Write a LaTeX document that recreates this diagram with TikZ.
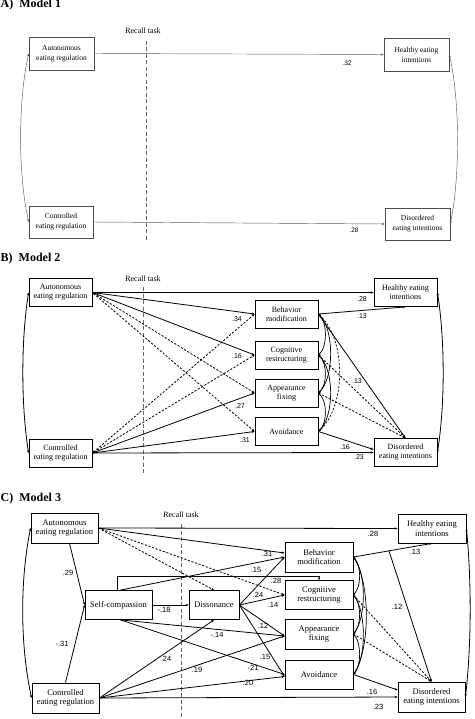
\documentclass[tikz,border=0pt]{standalone}
\usepackage{fontspec}
\setmainfont{Liberation Serif}
\newfontfamily\lsans{Liberation Sans}
\usetikzlibrary{arrows.meta}
\begin{document}
\begin{tikzpicture}[x=1pt,y=-1pt,
  tip/.tip={Stealth[length=3pt,width=2.4pt]},
  smalltip/.tip={Stealth[length=2.4pt,width=2pt]},
  boxA/.style={draw=black!70, line width=0.5pt, inner sep=0pt, align=center,
    font=\fontsize{7.5}{10}\selectfont},
  boxB/.style={draw, line width=0.8pt, inner sep=0pt, align=center,
    font=\fontsize{8}{9}\selectfont, minimum width=63pt, minimum height=28pt},
  boxC/.style={draw, line width=0.8pt, inner sep=0pt, align=center,
    font=\fontsize{8.5}{9.5}\selectfont},
  ttl/.style={anchor=west, inner sep=0pt, font=\fontsize{12}{12}\selectfont\bfseries},
  recall/.style={inner sep=0pt, font=\fontsize{8}{8}\selectfont},
  labA/.style={inner sep=0pt, font=\lsans\fontsize{6.5}{6.5}\selectfont},
  labB/.style={inner sep=0pt, font=\lsans\fontsize{7}{7}\selectfont},
  labC/.style={inner sep=0pt, font=\lsans\fontsize{7.5}{7.5}\selectfont},
  eA/.style={draw=black!65, line width=0.45pt, -tip},
  eB/.style={draw, line width=0.8pt, -tip},
  dsh/.style={dash pattern=on 2.2pt off 1.6pt},
  covA/.style={draw=black!65, line width=0.45pt, tip-tip},
  cov/.style={draw, line width=0.7pt, smalltip-smalltip},
  rline/.style={draw=black!60, line width=0.7pt, dash pattern=on 4pt off 2.5pt},
]
\useasboundingbox (0,0) rectangle (474,719);

% ================= Model 1 =================
\node[ttl] (tA) at (0.5,5) {A)\ \ Model 1};
\node[boxA, minimum width=65pt, minimum height=33pt] (A1) at (61.5,53.5) {Autonomous\\eating regulation};
\node[boxA, minimum width=65pt, minimum height=33pt] (H1) at (416.5,54.5) {Healthy eating\\intentions};
\node[boxA, minimum width=64pt, minimum height=32pt] (C1) at (61,222) {Controlled\\eating regulation};
\node[boxA, minimum width=65pt, minimum height=32pt] (D1) at (417.5,224) {Disordered\\eating intentions};
\node[recall] (rA) at (143,31) {Recall task};
\coordinate (rA1) at (146,41);
\coordinate (rA2) at (146,241);
\draw[rline] (rA1) -- (rA2);
\draw[eA] (A1.east) -- (H1.west);
\draw[eA] (C1.east) -- (D1.west);
\node[labA] (l32) at (347,63) {.32};
\node[labA] (l28a) at (354,230) {.28};
\draw[covA] (A1.west) .. controls (18,100) and (18,175) .. (C1.west);
\draw[covA] (H1.east) .. controls (460,100) and (460,178) .. (D1.east);

% ================= Model 2 =================
\node[ttl] (tB) at (0.5,259) {B)\ \ Model 2};
\node[boxB] (A2) at (60.5,292.5) {Autonomous\\eating regulation};
\node[boxB] (C2) at (60.5,453) {Controlled\\eating regulation};
\node[boxB] (H2) at (405.5,292.5) {Healthy eating\\intentions};
\node[boxB] (D2) at (405.5,452.5) {Disordered\\eating intentions};
\node[boxB] (B2) at (286.5,314) {Behavior\\modification};
\node[boxB] (R2) at (286.5,355) {Cognitive\\restructuring};
\node[boxB] (F2) at (286.5,393) {Appearance\\fixing};
\node[boxB] (V2) at (286.5,431.5) {Avoidance};
\node[recall] (rB) at (143,279) {Recall task};
\coordinate (rB1) at (143,287);
\coordinate (rB2) at (143,473);
\draw[rline] (rB1) -- (rB2);

\draw[eB] (A2.east) -- (H2.west);
\draw[eB, smalltip-tip] (A2.east) -- (B2.west);
\draw[eB, smalltip-tip] (A2.east) -- (R2.west);
\draw[eB, dsh, smalltip-tip] (A2.east) -- (F2.west);
\draw[eB, dsh, smalltip-tip] (A2.east) -- (V2.west);
\draw[eB, dsh, smalltip-tip] (C2.east) -- (B2.west);
\draw[eB, dsh, smalltip-tip] (C2.east) -- (R2.west);
\draw[eB, smalltip-tip] (C2.east) -- (F2.west);
\draw[eB, smalltip-tip] (C2.east) -- (V2.west);
\draw[eB] (C2.east) -- (D2.west);
\draw[eB] (B2.east) -- (H2.south);
\draw[eB] (B2.east) -- (D2.north);
\draw[eB, dsh] (R2.east) -- (D2.north);
\draw[eB, dsh] (F2.east) -- (D2.north);
\draw[eB] (V2.east) -- ([yshift=3pt]D2.west);

\draw[cov] (B2.east) .. controls +(9,8) and +(9,-8) .. (R2.east);
\draw[cov] (R2.east) .. controls +(9,8) and +(9,-8) .. (F2.east);
\draw[cov] (F2.east) .. controls +(9,8) and +(9,-8) .. (V2.east);
\draw[cov] (B2.east) .. controls +(16,15) and +(16,-15) .. (F2.east);
\draw[cov] (R2.east) .. controls +(16,15) and +(16,-15) .. (V2.east);
\draw[cov, dsh] (B2.east) .. controls +(28,25) and +(28,-25) .. (V2.east);

\draw[covA, draw=black, line width=0.8pt] (A2.west) .. controls (21,340) and (21,405) .. (C2.west);
\draw[covA, draw=black, line width=0.8pt] (H2.east) .. controls (445,340) and (445,405) .. (D2.east);

\node[labB] (l28b) at (362,299) {.28};
\node[labB] (l34b) at (237,319) {.34};
\node[labB] (l16b) at (237,356) {.16};
\node[labB] (l27b) at (240,406) {.27};
\node[labB] (l31b) at (245,440) {.31};
\node[labB] (l13b) at (362,316) {.13};
\node[labB] (l13c) at (357,381) {.13};
\node[labB] (l16c) at (345,447) {.16};
\node[labB] (l23b) at (359,457) {.23};

% ================= Model 3 =================
\node[ttl] (tC) at (0.5,499) {C)\ \ Model 3};
\node[boxC, minimum width=67pt, minimum height=30pt] (A3) at (64.5,528) {Autonomous\\eating regulation};
\node[boxC, minimum width=67pt, minimum height=30pt] (C3) at (65.5,698) {Controlled\\eating regulation};
\node[boxC, minimum width=68pt, minimum height=29pt] (H3) at (432,528.5) {Healthy eating\\intentions};
\node[boxC, minimum width=67pt, minimum height=30pt] (D3) at (431.5,697) {Disordered\\eating intentions};
\node[boxC, minimum width=67pt, minimum height=29pt] (S3) at (118.5,605) {Self-compassion};
\node[boxC, minimum width=50pt, minimum height=29pt] (N3) at (214,605) {Dissonance};
\node[boxC, minimum width=68pt, minimum height=30pt] (B3) at (319,557) {Behavior\\modification};
\node[boxC, minimum width=68pt, minimum height=29pt] (R3) at (319,595) {Cognitive\\restructuring};
\node[boxC, minimum width=68pt, minimum height=30pt] (F3) at (319,634) {Appearance\\fixing};
\node[boxC, minimum width=68pt, minimum height=29pt] (V3) at (319,674.5) {Avoidance};
\node[recall] (rC) at (181,515) {Recall task};
\coordinate (rC1) at (181,524);
\coordinate (rC2) at (181,719);
\draw[rline] (rC1) -- (rC2);

\draw[eB] (A3.east) -- (H3.west);
\draw[eB] (A3.east) -- ([yshift=4pt]B3.west);
\draw[eB, dsh] (A3.east) -- (N3.north);
\draw[eB, dsh] (A3.east) -- (R3.west);
\draw[eB] ([xshift=5pt]A3.south) -- (S3.west);
\draw[eB] (C3.north) -- (S3.west);
\draw[eB] (S3.east) -- (N3.west);
\draw[eB] ([xshift=2pt]S3.north) -- (B3.west);
\coordinate (el) at (319,576);
\draw[eB, -smalltip] ([xshift=-1.5pt]S3.north) |- (el) -- (R3.north);
\draw[eB] ([xshift=2pt]S3.south) -- ([yshift=-2pt]F3.west);
\draw[eB] ([xshift=2pt]S3.south) -- (V3.west);
\draw[eB] (N3.east) -- (B3.west);
\draw[eB] (N3.east) -- (R3.west);
\draw[eB] (N3.east) -- ([yshift=-2pt]F3.west);
\draw[eB] (N3.east) -- ([yshift=-2pt]V3.west);
\draw[eB] (C3.east) -- (N3.south);
\draw[eB] (C3.east) -- ([yshift=-2pt]F3.west);
\draw[eB] (C3.east) -- ([yshift=-2pt]V3.west);
\draw[eB] (C3.east) -- (D3.west);
\draw[eB] (V3.east) -- ([yshift=7pt]D3.west);
\draw[eB] (B3.east) -- (H3.south);
\coordinate (q12) at (389,551);
\draw[eB] (q12) -- (D3.north);
\draw[eB, dsh] (R3.east) -- (D3.north);
\draw[eB, dsh] (F3.east) -- (D3.north);

\draw[cov] (B3.east) .. controls +(8,9) and +(8,-9) .. (R3.east);
\draw[cov] (R3.east) .. controls +(8,9) and +(8,-9) .. (F3.east);
\draw[cov] (F3.east) .. controls +(8,9) and +(8,-9) .. (V3.east);
\draw[cov] (B3.east) .. controls +(13,17) and +(13,-17) .. (F3.east);
\draw[cov] (R3.east) .. controls +(13,17) and +(13,-17) .. (V3.east);
\draw[cov] (B3.east) .. controls +(17,26) and +(17,-26) .. (V3.east);

\draw[covA, draw=black, line width=0.8pt] (A3.west) .. controls (20,580) and (20,645) .. (C3.west);
\draw[covA, draw=black, line width=0.8pt] (H3.east) .. controls (471.5,580) and (471.5,645) .. (D3.east);

\node[labC] (l28c) at (373,534) {.28};
\node[labC] (l31c) at (267,554) {.31};
\node[labC] (l15c) at (256,570) {.15};
\node[labC] (l28d) at (276,581) {.28};
\node[labC] (l24c) at (258,595) {.24};
\node[labC] (l14c) at (273,605) {.14};
\node[labC] (l12c) at (263,626) {.12};
\node[labC] (l15d) at (265,657) {.15};
\node[labC] (l21c) at (253,668) {-21};
\node[labC] (l20c) at (248,683) {.20};
\node[labC] (l19c) at (197,670) {.19};
\node[labC] (l24d) at (166,659) {.24};
\node[labC] (l14d) at (217,635) {-.14};
\node[labC] (l18c) at (164,610) {-.18};
\node[labC] (l29c) at (68,573) {.29};
\node[labC] (l31d) at (62,644) {-.31};
\node[labC] (l13d) at (415,552) {.13};
\node[labC] (l12d) at (397,607) {.12};
\node[labC] (l16d) at (372,692) {.16};
\node[labC] (l23c) at (378,707) {.23};
\end{tikzpicture}
\end{document}
